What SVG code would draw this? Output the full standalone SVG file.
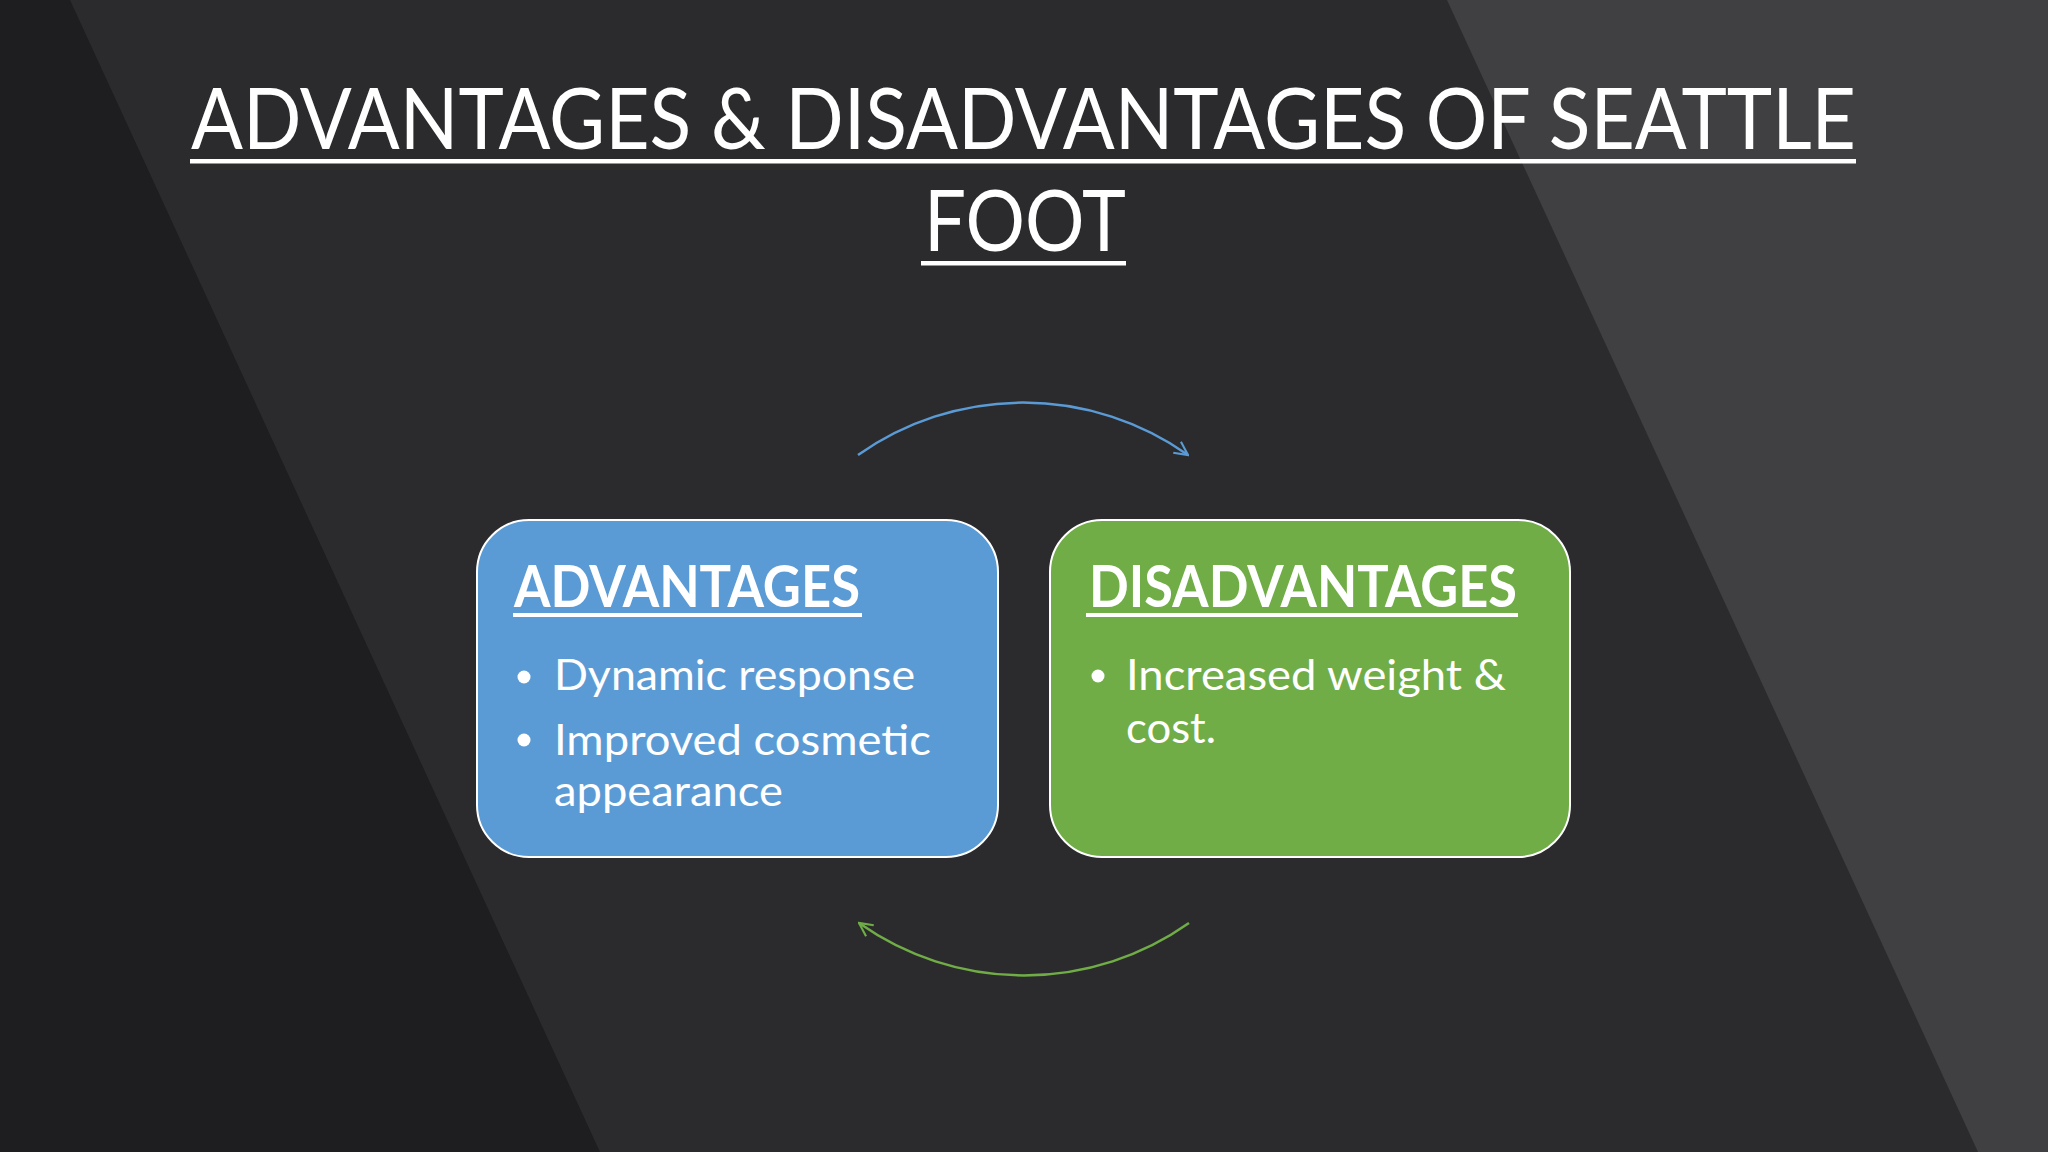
<svg xmlns="http://www.w3.org/2000/svg" width="2048" height="1152" viewBox="0 0 2048 1152">
  <style>
    .title { font-family: Lato, "Open Sans", "Liberation Sans", sans-serif; font-size: 86px; fill: #ffffff; }
    .head { font-family: Lato, "Open Sans", "Liberation Sans", sans-serif; font-size: 57px; font-weight: bold; fill: #ffffff; }
    .item { font-family: Lato, "Open Sans", "Liberation Sans", sans-serif; font-size: 42px; fill: #ffffff; }
    .box { stroke: #ffffff; stroke-width: 2; }
    .conn { fill: none; stroke-width: 2.5; }
  </style>
  <defs>
    <marker id="arrBlue" viewBox="0 0 12 12" refX="11" refY="6" markerWidth="16" markerHeight="16" markerUnits="userSpaceOnUse" orient="auto">
      <path d="M1,1 L11,6 L1,11" fill="none" stroke="#5b9bd5" stroke-width="1.6"/>
    </marker>
    <marker id="arrGreen" viewBox="0 0 12 12" refX="11" refY="6" markerWidth="16" markerHeight="16" markerUnits="userSpaceOnUse" orient="auto">
      <path d="M1,1 L11,6 L1,11" fill="none" stroke="#70ad47" stroke-width="1.6"/>
    </marker>
  </defs>

  <g id="background">
    <rect x="0" y="0" width="2048" height="1152" fill="#2b2b2d"/>
    <polygon points="0,0 70,0 600,1152 0,1152" fill="#1e1e20"/>
    <polygon points="1447,0 2048,0 2048,1152 1978,1152" fill="#403f41"/>
  </g>

  <g id="title">
    <text class="title" x="191" y="149" textLength="1665" lengthAdjust="spacingAndGlyphs">ADVANTAGES &amp; DISADVANTAGES OF SEATTLE</text>
    <rect x="190" y="159" width="1666" height="4.5" fill="#ffffff"/>
    <text class="title" x="924" y="251" textLength="202" lengthAdjust="spacingAndGlyphs">FOOT</text>
    <rect x="921" y="261" width="205" height="4.5" fill="#ffffff"/>
  </g>

  <g id="connectors">
    <path class="conn" stroke="#5b9bd5" d="M858,455 A286,286 0 0 1 1188,455" marker-end="url(#arrBlue)"/>
    <path class="conn" stroke="#70ad47" d="M1189,923 A286,286 0 0 1 859,923" marker-end="url(#arrGreen)"/>
  </g>

  <g id="advantages">
    <rect class="box" x="477" y="520" width="521" height="337" rx="52" ry="52" fill="#5b9bd5"/>
    <text class="head" x="514" y="607" textLength="346" lengthAdjust="spacingAndGlyphs">ADVANTAGES</text>
    <rect x="513" y="613" width="349" height="4" fill="#ffffff"/>
    <circle cx="524" cy="677" r="6.5" fill="#ffffff"/>
    <text class="item" x="554" y="690" textLength="361" lengthAdjust="spacingAndGlyphs">Dynamic response</text>
    <circle cx="524" cy="740" r="6.5" fill="#ffffff"/>
    <text class="item" x="554" y="755" textLength="377" lengthAdjust="spacingAndGlyphs">Improved cosmetic</text>
    <text class="item" x="554" y="806" textLength="229" lengthAdjust="spacingAndGlyphs">appearance</text>
  </g>

  <g id="disadvantages">
    <rect class="box" x="1050" y="520" width="520" height="337" rx="52" ry="52" fill="#70ad47"/>
    <text class="head" x="1089" y="607" textLength="428" lengthAdjust="spacingAndGlyphs">DISADVANTAGES</text>
    <rect x="1086" y="613" width="432" height="4" fill="#ffffff"/>
    <circle cx="1098" cy="676" r="6.5" fill="#ffffff"/>
    <text class="item" x="1126" y="690" textLength="380" lengthAdjust="spacingAndGlyphs">Increased weight &amp;</text>
    <text class="item" x="1126" y="743" textLength="90" lengthAdjust="spacingAndGlyphs">cost.</text>
  </g>
</svg>
